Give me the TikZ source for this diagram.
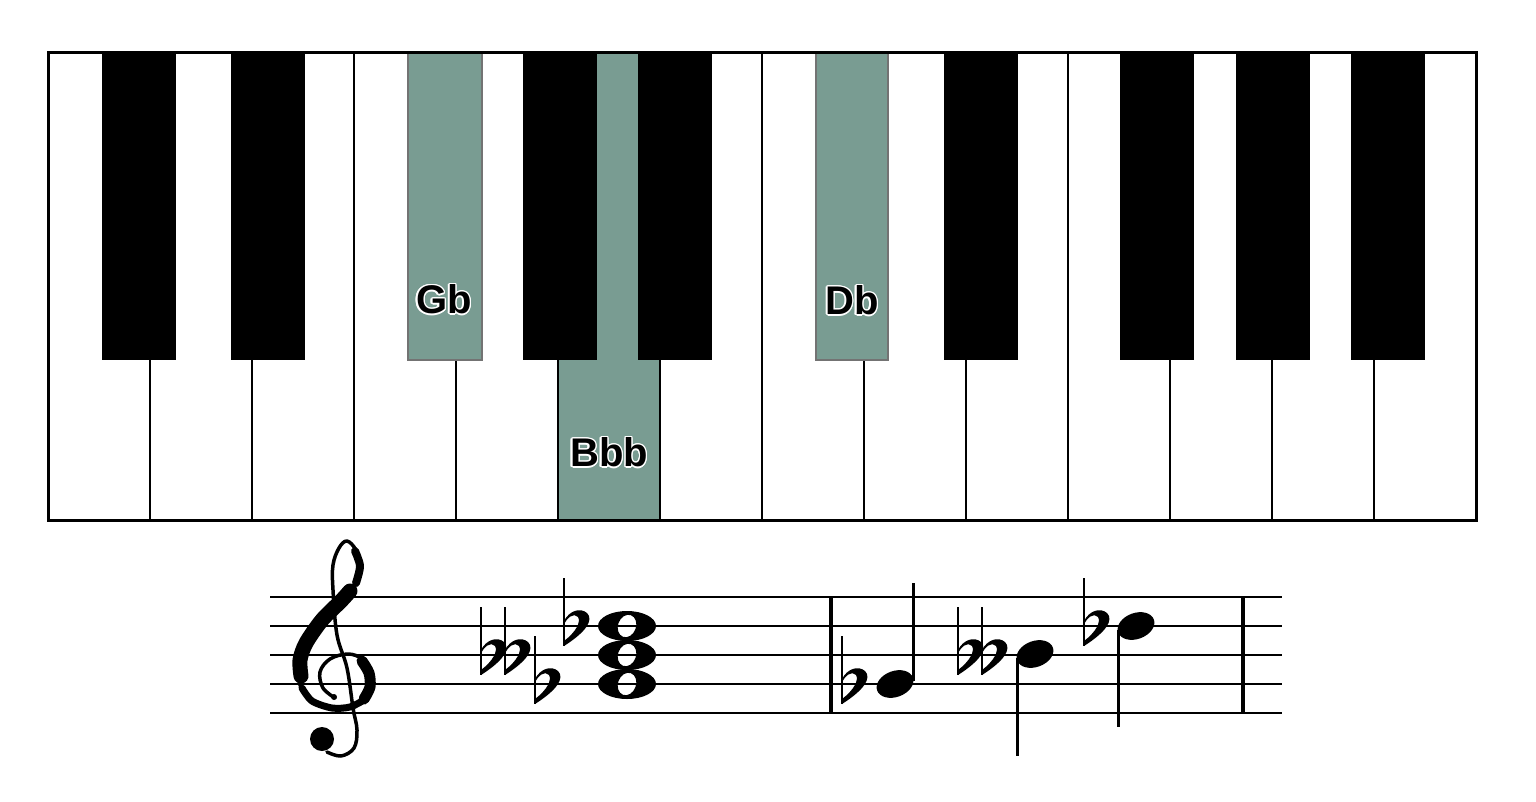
\documentclass[tikz,border=0pt]{standalone}
\usepackage{fontspec}
\usepackage{contour}
\setmainfont{Liberation Sans}
\usetikzlibrary{positioning}
\definecolor{chordkey}{RGB}{121,156,146}
\contourlength{1.4pt}

\begin{document}
\begin{tikzpicture}[x=1pt,y=-1pt,
    white key/.style={fill=white,draw=black,line width=2.5pt},
    black key/.style={fill=black},
    chord key/.style={fill=chordkey,draw=black!55,line width=1.5pt},
    key label/.style={font=\fontsize{40}{44}\selectfont\bfseries,inner sep=0pt},
    staff line/.style={line width=2.5pt},
    bar line/.style={line width=3.5pt},
    note stem/.style={line width=3pt},
    clef stroke/.style={line cap=round,line join=round},
    flat sign/.pic={
      \draw[line width=2.5pt] (0,-48) -- (0,20);
      \fill (0,-5) .. controls (5,-15) and (16,-19) .. (23,-13)
        .. controls (30,-6) and (22,6) .. (0,20) -- (0,15)
        .. controls (12,6) and (17,-4) .. (14,-9)
        .. controls (10,-14) and (3,-8) .. (0,-2) -- cycle;}]

\useasboundingbox (0,0) rectangle (1536,801);

\foreach \k in {0,...,13}
  \draw[white key] (48+102*\k,52) rectangle ++(102,468);
\draw[white key,fill=chordkey] (558,52) rectangle (660,520);
\foreach \x in {102,231,523,638,944,1120,1236,1351}
  \fill[black key] (\x,52) rectangle ++(74,308);
\draw[chord key] (408,52) rectangle ++(74,308);
\draw[chord key] (816,52) rectangle ++(72,308);
\draw[line width=3pt] (48,52) rectangle (1476,520);

\node[key label] (gb)  at (444,300) {\contour{white}{Gb}};
\node[key label] (db)  at (852,301) {\contour{white}{Db}};
\node[key label] (bbb) at (609,453) {\contour{white}{Bbb}};

\foreach \y in {597,626,655,684,713}
  \draw[staff line] (270,\y) -- (1282,\y);
\draw[bar line] (831,597) -- (831,713);
\draw[bar line] (1243,597) -- (1243,713);

\draw[clef stroke,line width=3.5pt] plot[smooth,tension=0.6] coordinates {
  (335,698) (323,688) (320,672) (330,659) (348,654) (362,659) (370,672)
  (371,686) (364,700) (350,707) (332,708) (312,701) (300,685) (299,665)
  (306,643) (322,620) (342,600) (356,584) (361,566) (356,550) (347,541)
  (339,548) (333,565) (333,590) (337,635) (347,668) (353,708) (357,730)
  (354,748) (341,756) (327,752)};
\draw[clef stroke,line width=15pt] plot[smooth] coordinates {
  (301,676) (300,660) (306,643) (322,620) (341,601) (350,591)};
\draw[clef stroke,line width=11pt] plot[smooth] coordinates {
  (362,661) (369,673) (370,687) (364,699)};
\draw[clef stroke,line width=7pt] plot[smooth] coordinates {
  (364,700) (350,707) (332,708) (312,701) (302,688)};
\draw[clef stroke,line width=8pt] plot[smooth] coordinates {
  (356,583) (360,566) (355,551)};
\fill (334,697) circle [radius=3pt];
\fill (322,739) circle [radius=12pt];

\foreach \y in {626,655,684}
  \fill[even odd rule] (627,\y) circle [x radius=29pt,y radius=15pt]
    (627,\y) circle [x radius=9pt,y radius=11.5pt,rotate=-20];
\pic at (535,684) {flat sign};
\pic at (481,655) {flat sign};
\pic at (505,655) {flat sign};
\pic at (564,626) {flat sign};

\fill (895,684) circle [x radius=19pt,y radius=13pt,rotate=20];
\draw[note stem] (913,681) -- (913,583);
\pic at (842,684) {flat sign};
\fill (1035,654) circle [x radius=19pt,y radius=13pt,rotate=20];
\draw[note stem] (1017,658) -- (1017,756);
\pic at (958,655) {flat sign};
\pic at (982,655) {flat sign};
\fill (1136,626) circle [x radius=19pt,y radius=13pt,rotate=20];
\draw[note stem] (1118,630) -- (1118,727);
\pic at (1084,626) {flat sign};
\end{tikzpicture}
\end{document}
